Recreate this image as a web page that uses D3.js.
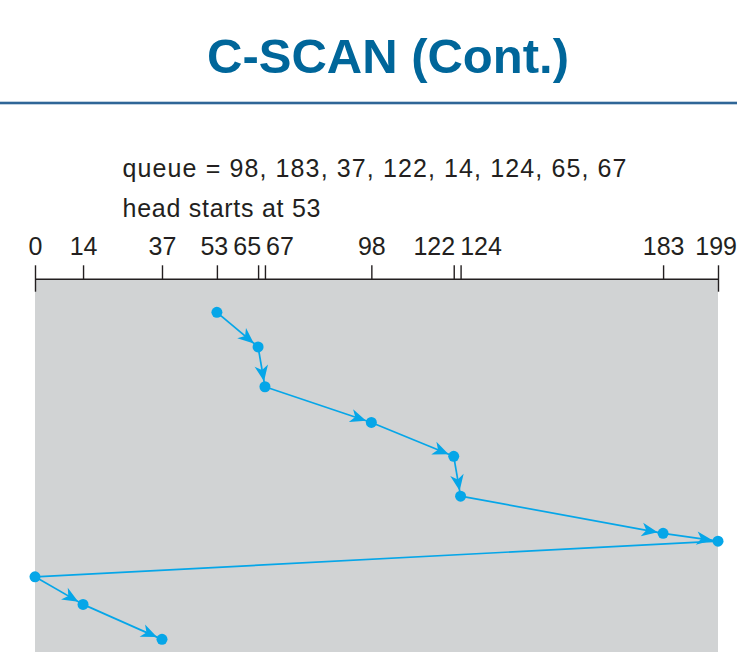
<!DOCTYPE html>
<html>
<head>
<meta charset="utf-8">
<script src="https://cdn.jsdelivr.net/npm/d3@7"></script>
<style>
  html, body { margin: 0; padding: 0; background: #ffffff; }
  svg { display: block; }
  text { font-family: "Liberation Sans", Arial, Helvetica, sans-serif; }
</style>
</head>
<body>
<svg id="chart" width="737" height="665"></svg>
<script>
// ---- data ----
const titleText = "C-SCAN (Cont.)";
const queueLine = "queue = 98, 183, 37, 122, 14, 124, 65, 67";
const headLine = "head starts at 53";
const cylinderTicks = [0, 14, 37, 53, 65, 67, 98, 122, 124, 183, 199];
const cylinderDomain = [0, 199];
// order in which the head services the cylinders
const serviceOrder = [53, 65, 67, 98, 122, 124, 183, 199, 0, 14, 37];
// relative time (0..100, top to bottom) at which each cylinder is reached
const serviceTime = [8.7, 18.0, 28.7, 38.3, 47.4, 58.1, 68.1, 70.2, 79.8, 87.2, 96.6];
const timeDomain = [0, 100];

// ---- drawing ----
const svg = d3.select("#chart");
const W = 737;
const lineColor = "#06a6e8";
const inkColor = "#231f20";

// title
svg.append("text")
  .attr("x", 388).attr("y", 73)
  .attr("text-anchor", "middle")
  .attr("font-size", 49).attr("font-weight", "bold")
  .attr("fill", "#00669a")
  .text(titleText);

svg.append("rect")
  .attr("x", 0).attr("y", 101.7).attr("width", W).attr("height", 2.6)
  .attr("fill", "#2f6697");

// header texts
svg.append("text")
  .attr("x", 122.5).attr("y", 177.3)
  .attr("font-size", 25).attr("fill", inkColor)
  .attr("textLength", 504).attr("lengthAdjust", "spacing")
  .text(queueLine);
svg.append("text")
  .attr("x", 122.5).attr("y", 216.7)
  .attr("font-size", 25).attr("fill", inkColor)
  .attr("textLength", 198).attr("lengthAdjust", "spacing")
  .text(headLine);

// scales
const x = d3.scaleLinear().domain(cylinderDomain).range([35, 718]);
const y = d3.scaleLinear().domain(timeDomain).range([280, 652]);
const axisY = 279.3;

// gray panel
svg.append("rect")
  .attr("x", x(cylinderDomain[0])).attr("y", axisY)
  .attr("width", x(cylinderDomain[1]) - x(cylinderDomain[0]))
  .attr("height", y(timeDomain[1]) - axisY)
  .attr("fill", "#d1d3d4");

// axis
const axis = d3.axisTop(x).tickValues(cylinderTicks).tickSize(14).tickFormat(d3.format("d"));
const gAxis = svg.append("g").attr("transform", `translate(0,${axisY})`).call(axis);
gAxis.select(".domain").attr("d", `M${x(0)},0H${x(199)}`).attr("stroke", inkColor).attr("stroke-width", 1.4);
gAxis.selectAll(".tick line").attr("stroke", inkColor).attr("stroke-width", 1.4)
  .attr("y2", d => (d === cylinderDomain[0] || d === cylinderDomain[1]) ? 12.4 : -14)
  .attr("y1", d => (d === cylinderDomain[0] || d === cylinderDomain[1]) ? -14 : 0);
gAxis.selectAll(".tick text")
  .attr("font-family", "'Liberation Sans', Arial, sans-serif")
  .attr("font-size", 25).attr("fill", inkColor)
  .attr("y", 0).attr("dy", null)
  .attr("transform", `translate(0,${255 - axisY})`);

// resolve overlapping tick labels by pushing them apart
const ticks = gAxis.selectAll(".tick").nodes().map(n => {
  const t = d3.select(n).select("text");
  const v = d3.select(n).datum();
  return { v, t, cx: x(v), w: t.node().getComputedTextLength() };
}).sort((a, b) => a.v - b.v);
const gap = 5;
for (let it = 0; it < 200; it++) {
  for (let i = 0; i < ticks.length - 1; i++) {
    const a = ticks[i], b = ticks[i + 1];
    const ov = (a.cx + a.w / 2 + gap) - (b.cx - b.w / 2);
    if (ov > 0) { a.cx -= ov / 2; b.cx += ov / 2; }
  }
  const last = ticks[ticks.length - 1];
  if (last.cx + last.w / 2 > W - 0.5) last.cx = W - 0.5 - last.w / 2;
}
ticks.forEach(d => d.t.attr("x", d.cx - x(d.v)));

// arrow marker
const defs = svg.append("defs");
defs.append("marker")
  .attr("id", "arrow")
  .attr("markerUnits", "userSpaceOnUse")
  .attr("viewBox", "-20 -10 26 20")
  .attr("markerWidth", 26).attr("markerHeight", 20)
  .attr("refX", 5.5).attr("refY", 0)
  .attr("orient", "auto")
  .append("path")
  .attr("d", "M0,0L-16,-6.8L-11.5,0L-16,6.8Z")
  .attr("fill", lineColor);

// head movement
const pts = serviceOrder.map((c, i) => ({ c, t: serviceTime[i] }));
const segs = d3.pairs(pts);
svg.append("g").selectAll("line").data(segs).join("line")
  .attr("x1", d => x(d[0].c)).attr("y1", d => y(d[0].t))
  .attr("x2", d => x(d[1].c)).attr("y2", d => y(d[1].t))
  .attr("stroke", lineColor).attr("stroke-width", 1.7)
  .attr("marker-end", d => d[1].c > d[0].c ? "url(#arrow)" : null);

svg.append("g").selectAll("circle").data(pts).join("circle")
  .attr("cx", d => x(d.c)).attr("cy", d => y(d.t))
  .attr("r", 5.5).attr("fill", lineColor);
</script>
</body>
</html>
